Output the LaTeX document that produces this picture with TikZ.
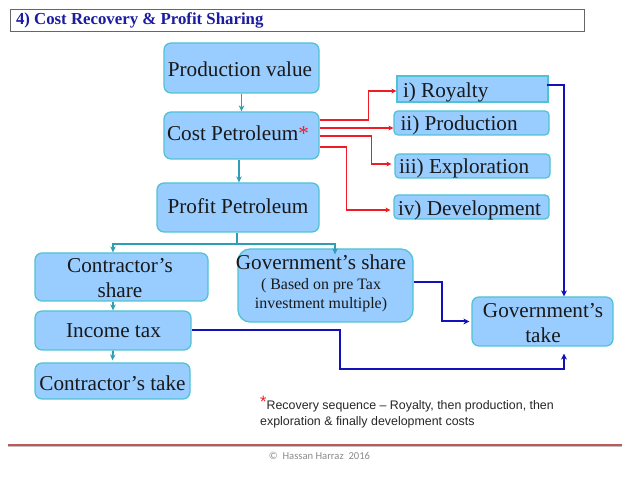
\documentclass[tikz,border=0pt]{standalone}
\usepackage{fontspec}
\setmainfont{Liberation Serif}
\newfontfamily\notefont{Liberation Sans}
\newfontfamily\footfont{Carlito}
\usetikzlibrary{arrows.meta,calc}
\definecolor{boxfill}{HTML}{99CCFF}
\definecolor{boxline}{HTML}{4FC3D3}
\definecolor{tealline}{HTML}{2E9DB8}
\definecolor{redline}{HTML}{EE1C25}
\definecolor{blueline}{HTML}{1212B8}
\definecolor{titleblue}{HTML}{1C1CA0}
\definecolor{ruleline}{HTML}{C0585A}
% centred text: shift right by #1, baseline raised by #2 from the node centre
\newcommand\placed[3]{\raisebox{#2}[0pt][0pt]{\makebox[0pt]{\kern#1\relax #3\kern-#1\relax}}}
% left-aligned text: starts #1 from the node centre, baseline raised by #2
\newcommand\placedleft[3]{\raisebox{#2}[0pt][0pt]{\makebox[0pt][l]{\kern#1\relax #3}}}
\tikzset{
  flowbox/.style={draw=boxline,fill=boxfill,line width=1.25pt,rounded corners=7pt,inner sep=0pt,align=center,text=black!90,font=\fontsize{21.2}{25}\selectfont},
  listbox/.style={flowbox,rounded corners=4pt},
  tealarrow/.style={draw=tealline,line width=1.9pt,-{Stealth[length=6pt,width=5.5pt]}},
  redarrow/.style={draw=redline,line width=1.6pt,-{Stealth[length=5pt,width=5pt]}},
  bluearrow/.style={draw=blueline,line width=2pt,-{Stealth[length=6pt,width=6pt]}},
}
\begin{document}
\begin{tikzpicture}[x=1pt,y=-1pt]
\useasboundingbox (0,0) rectangle (638,478);
\fill[white] (0,0) rectangle (638,478);

\node[draw=black!60,line width=0.9pt,minimum width=574pt,minimum height=22pt,inner sep=0pt,anchor=center] (title) at (297,20) {\placedleft{-281pt}{-5pt}{\fontsize{16.8}{18}\selectfont\bfseries\color{titleblue}4) Cost Recovery \& Profit Sharing}};

\node[flowbox,minimum width=155pt,minimum height=50pt] (prod) at (241.5,68) {\placed{-1.5pt}{-8.5pt}{Production value}};
\node[flowbox,minimum width=155pt,minimum height=47pt] (cost) at (241.5,135.5) {\placed{-3.5pt}{-5pt}{Cost Petroleum{\color{redline}*}}};
\node[flowbox,minimum width=162pt,minimum height=49pt] (profit) at (238,207.5) {\placed{0pt}{-6pt}{Profit Petroleum}};
\node[flowbox,minimum width=173pt,minimum height=48pt] (cshare) at (121.5,277) {\placed{-1.5pt}{4.5pt}{\begin{tabular}[t]{@{}c@{}}Contractor’s\\share\end{tabular}}};
\node[flowbox,minimum width=156pt,minimum height=39pt] (itax) at (113,330.5) {\placed{0.5pt}{-7pt}{Income tax}};
\node[flowbox,minimum width=155pt,minimum height=36pt] (ctake) at (112.5,381) {\placed{0pt}{-9.7pt}{Contractor’s take}};
\node[flowbox,rounded corners=12pt,minimum width=175pt,minimum height=73pt] (gshare) at (325.5,285.5) {\placed{-4.5pt}{16pt}{\begin{tabular}[t]{@{}c@{}}Government’s share\\[-5pt]{\fontsize{15.9}{17}\selectfont ( Based on pre Tax}\\[-6pt]{\fontsize{15.9}{17}\selectfont investment multiple)}\end{tabular}}};
\node[flowbox,minimum width=141pt,minimum height=49pt] (gtake) at (542.5,321.5) {\placed{0.5pt}{4.2pt}{\begin{tabular}[t]{@{}c@{}}Government’s\\take\end{tabular}}};

\node[listbox,rounded corners=0pt,minimum width=151pt,minimum height=26pt] (roy) at (472.5,89) {\placedleft{-69.5pt}{-8.2pt}{i) Royalty}};
\node[listbox,minimum width=155pt,minimum height=24pt] (prd) at (471.5,123) {\placedleft{-71pt}{-7.7pt}{ii) Production}};
\node[listbox,minimum width=155pt,minimum height=24pt] (exp) at (472.5,166) {\placedleft{-73.5pt}{-7.3pt}{iii) Exploration}};
\node[listbox,minimum width=155pt,minimum height=24pt] (dev) at (471.5,207) {\placedleft{-73.5pt}{-8.7pt}{iv) Development}};

% teal connectors
\draw[tealarrow] (prod.south) -- (cost.north);
\draw[tealarrow] ([xshift=-2.5pt]cost.south) -- ([xshift=1pt]profit.north);
\coordinate (split) at ($(profit.south)+(-1,11)$);
\draw[draw=tealline,line width=1.9pt] ([xshift=-1pt]profit.south) -- (split);
\draw[tealarrow] (split) -| ([xshift=-8.5pt]cshare.north);
\draw[tealarrow] (split) -| ([xshift=9.5pt,yshift=-6pt]gshare.north);
\draw[tealarrow] ([xshift=-8.5pt]cshare.south) -- (itax.north);
\draw[tealarrow] (itax.south) -- ([yshift=2pt]ctake.north);

% red connectors
\draw[redarrow] ([yshift=15.5pt]cost.east) -- ++(49,0) |- (roy.west |- 0,91);
\draw[redarrow] ([yshift=7.5pt]cost.east) -- (prd.west |- 0,128);
\draw[redarrow] ([yshift=-0.5pt]cost.east) -- ++(52,0) |- ([xshift=-3pt]exp.west |- 0,164);
\draw[redarrow] ([yshift=-11.5pt]cost.east) -- ++(27,0) |- ([xshift=-3pt]dev.west |- 0,210);

% blue connectors
\draw[bluearrow] ([yshift=4pt,xshift=-2pt]roy.east) -| ([xshift=21.5pt]gtake.north);
\draw[bluearrow] ([yshift=3.5pt]gshare.east) -- ++(28,0) |- ([xshift=-2pt]gtake.west);
\draw[bluearrow] ([yshift=0.5pt]itax.east) -- ++(148,0) -- ++(0,39) -| ([xshift=21.5pt,yshift=-7pt]gtake.south);

% footnote
\node[anchor=north west,inner sep=0pt,align=left,font=\fontsize{12.4}{16}\notefont\selectfont,text=black!85] (note) at (260,396) {{\fontsize{16.5}{16}\selectfont\color{redline}\raisebox{1.5pt}{*}}Recovery sequence – Royalty, then production, then\\exploration \& finally development costs};

% rule
\coordinate (ruleL) at (8,445);
\coordinate (ruleR) at (622,445);
\draw[draw=black!25,line width=1pt] ([yshift=-1.4pt]ruleL) -- ([yshift=-1.4pt]ruleR);
\draw[draw=ruleline,line width=1.8pt] (ruleL) -- (ruleR);
\node[inner sep=0pt,font=\fontsize{10.6}{12}\footfont\selectfont,text=black!45] (foot) at (319.5,456) {©~~Hassan Harraz~~2016};
\end{tikzpicture}
\end{document}
